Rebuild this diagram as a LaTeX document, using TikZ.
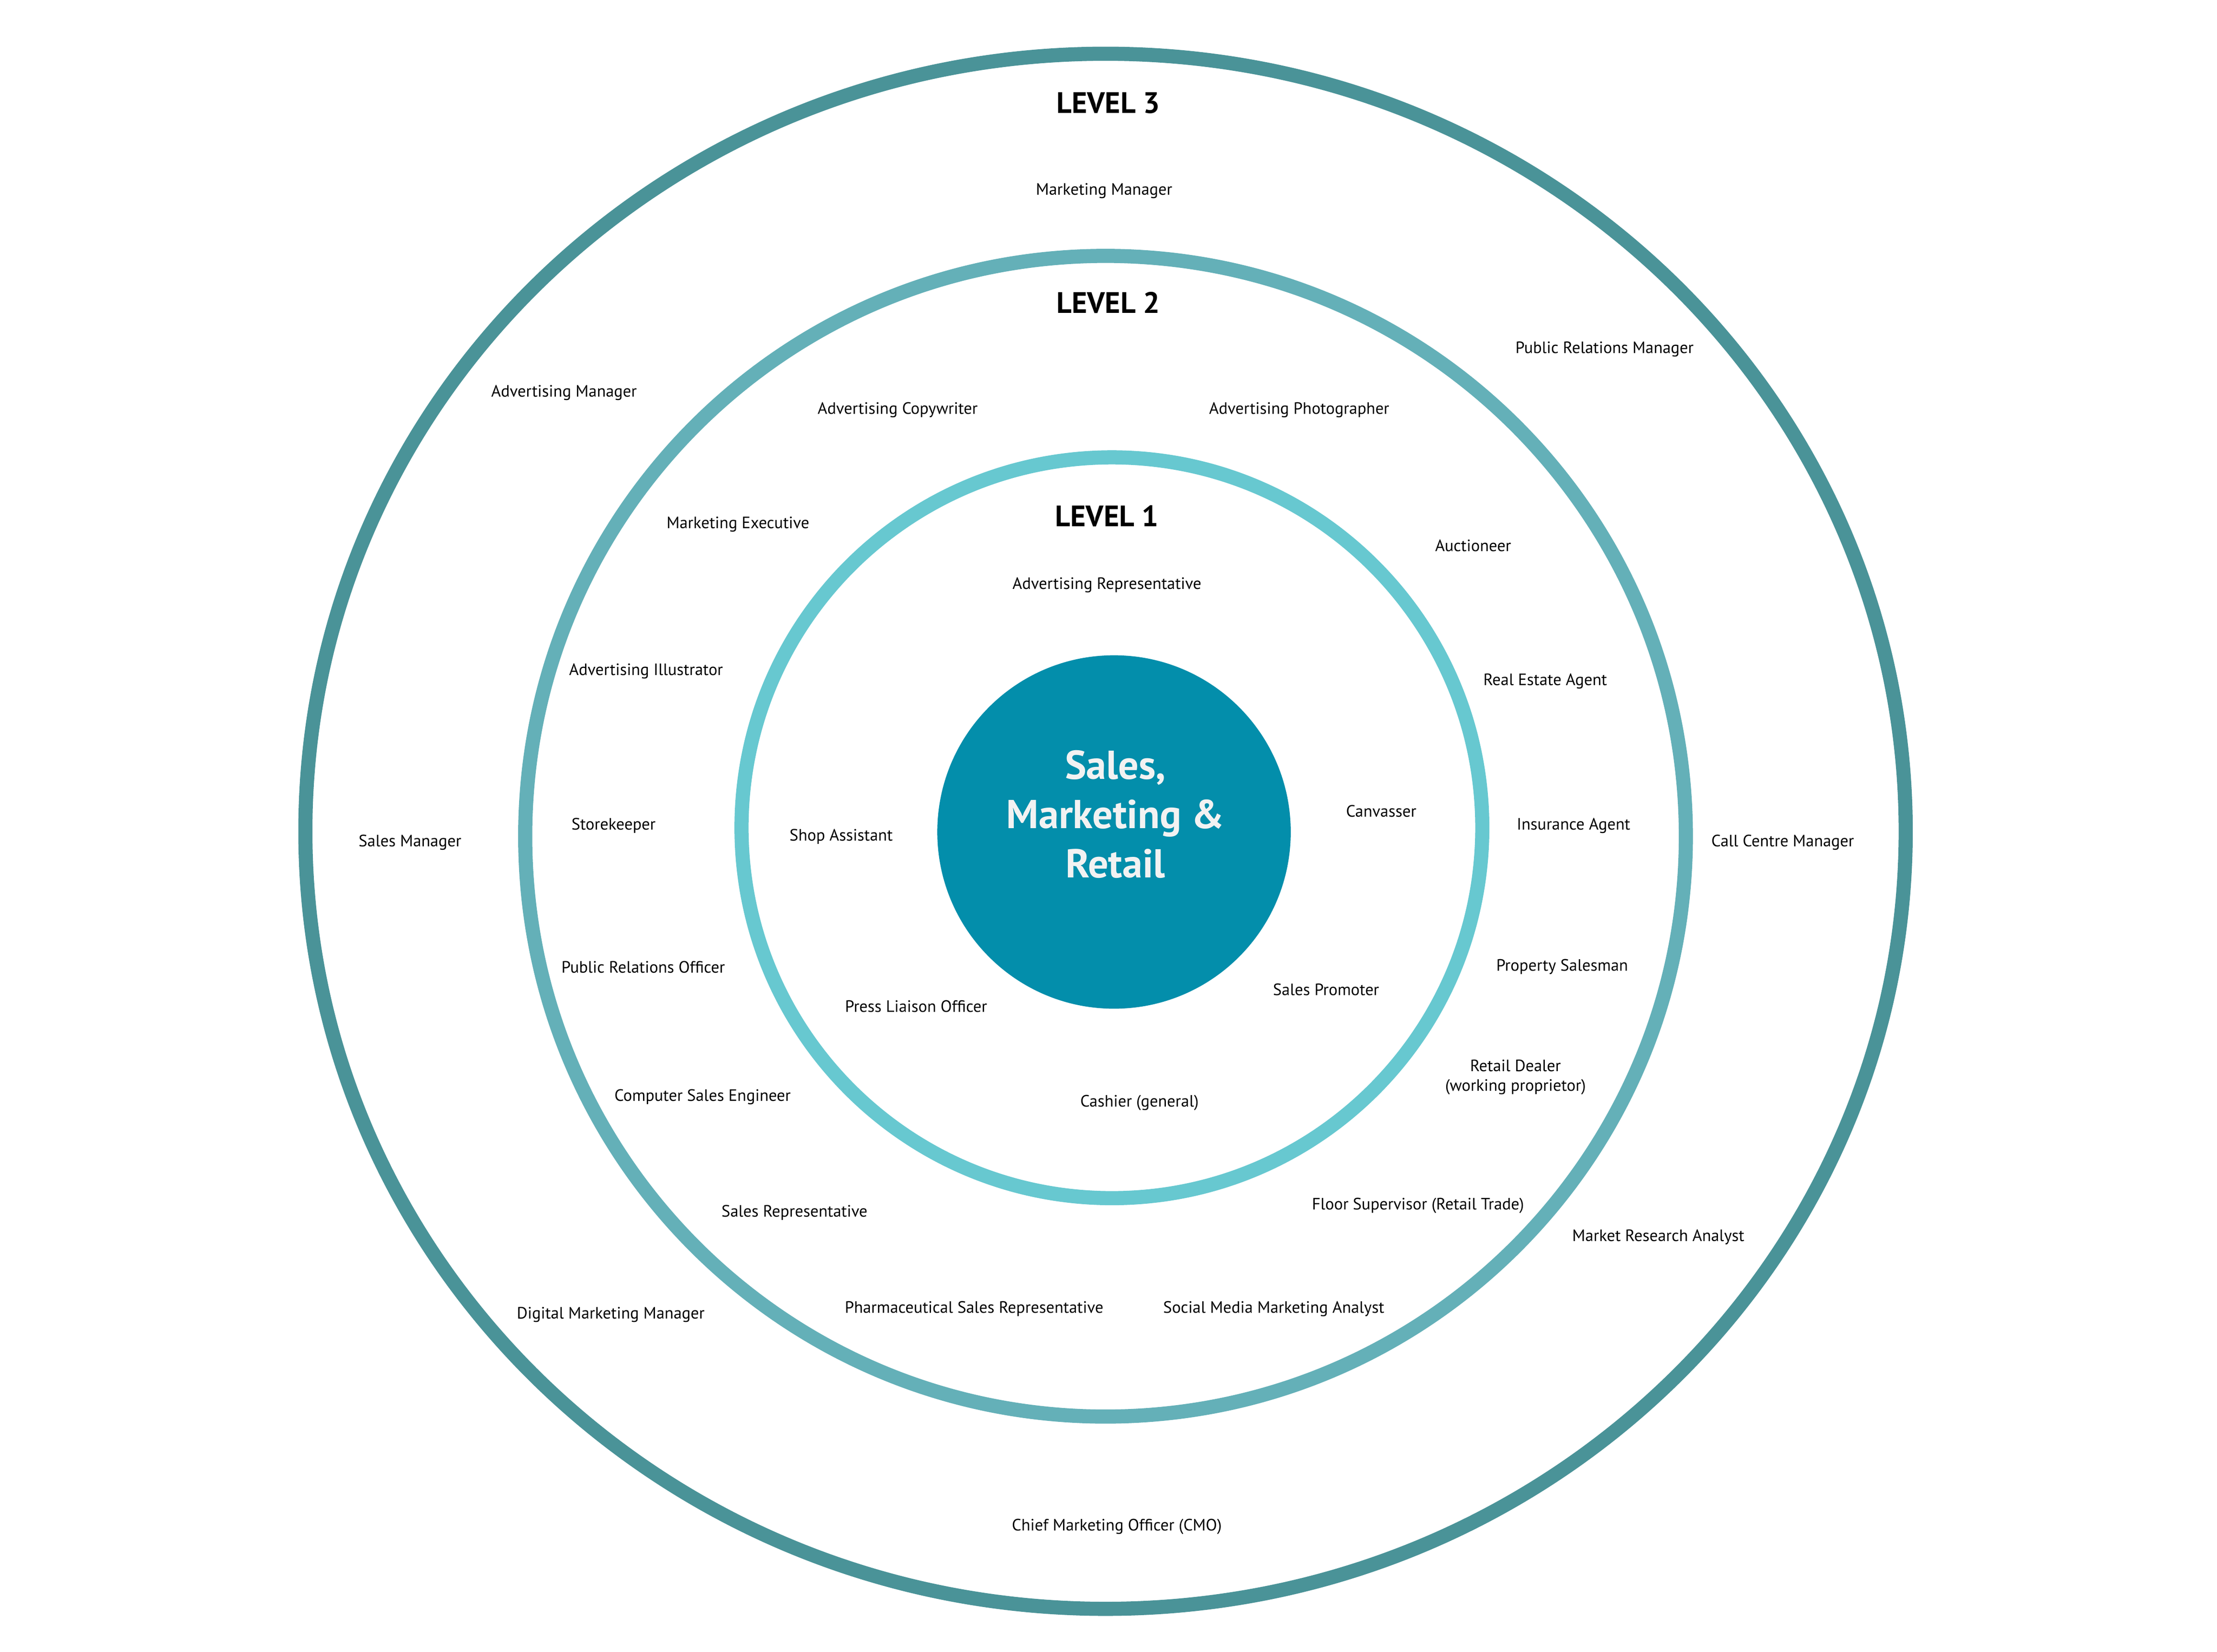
\documentclass[tikz,border=0pt]{standalone}
\usepackage{fontspec}
\setmainfont{PT Sans}
\definecolor{ringthree}{HTML}{4A9398}
\definecolor{ringtwo}{HTML}{64B0B8}
\definecolor{ringone}{HTML}{67C8D0}
\definecolor{core}{HTML}{038EAB}
\definecolor{coretext}{HTML}{F2F2F2}
\begin{document}
\begin{tikzpicture}[x=0.02955cm,y=-0.02955cm,
  job/.style={font=\fontsize{9.8}{11.8}\selectfont, text=black, inner sep=0pt, align=center, yshift=-1.6pt},
  lvl/.style={font=\bfseries\fontsize{17.6}{21}\selectfont, text=black, inner sep=0pt},
  ringline/.style={line width=8.4pt}]
\useasboundingbox (0,0) rectangle (1568.2,1168.2);
\fill[white] (0,0) rectangle (1568.2,1168.2);
% rings
\draw[ringline, draw=ringthree] (782,588) ellipse [x radius=566, y radius=550];
\draw[ringline, draw=ringtwo] (782,591.5) circle [radius=410.5];
\draw[ringline, draw=ringone] (786.5,585.5) circle [radius=262];
\fill[core] (788,588.5) circle [radius=125];
\node[font=\bfseries\fontsize{24}{29.4}\selectfont, text=coretext, align=center, inner sep=0pt] (core) at (789,576) {Sales,\\Marketing \&\\Retail};
% level 3
\node[lvl] (l3) at (784,73) {LEVEL 3};
\node[job] (mm) at (781,133) {Marketing Manager};
\node[job] (prm) at (1135,245) {Public Relations Manager};
\node[job] (am) at (399,276) {Advertising Manager};
\node[job] (sm) at (290,594) {Sales Manager};
\node[job] (ccm) at (1261,594) {Call Centre Manager};
\node[job] (mra) at (1173,873) {Market Research Analyst};
\node[job] (dmm) at (432,928) {Digital Marketing Manager};
\node[job] (cmo) at (790,1078) {Chief Marketing Officer (CMO)};
% level 2
\node[lvl] (l2) at (784,214) {LEVEL 2};
\node[job] (ac) at (635,288) {Advertising Copywriter};
\node[job] (ap) at (919,288) {Advertising Photographer};
\node[job] (me) at (522,369) {Marketing Executive};
\node[job] (auc) at (1042,384) {Auctioneer};
\node[job] (ai) at (457,473) {Advertising Illustrator};
\node[job] (rea) at (1093,480) {Real Estate Agent};
\node[job] (sk) at (434,582) {Storekeeper};
\node[job] (ia) at (1113,582) {Insurance Agent};
\node[job] (pro) at (455,682) {Public Relations Officer};
\node[job] (ps) at (1105,682) {Property Salesman};
\node[job] (rd) at (1072,760) {Retail Dealer\\(working proprietor)};
\node[job] (cse) at (497,774) {Computer Sales Engineer};
\node[job] (fs) at (1003,851) {Floor Supervisor (Retail Trade)};
\node[job] (sr) at (562,856) {Sales Representative};
\node[job] (psr) at (689,924) {Pharmaceutical Sales Representative};
\node[job] (smma) at (901,924) {Social Media Marketing Analyst};
% level 1
\node[lvl] (l1) at (783,365) {LEVEL 1};
\node[job] (ar) at (783,412) {Advertising Representative};
\node[job] (cv) at (977,572) {Canvasser};
\node[job] (sa) at (595,590) {Shop Assistant};
\node[job] (plo) at (648,710) {Press Liaison Officer};
\node[job] (sp) at (938,698) {Sales Promoter};
\node[job] (cg) at (806,778) {Cashier (general)};
\end{tikzpicture}
\end{document}
